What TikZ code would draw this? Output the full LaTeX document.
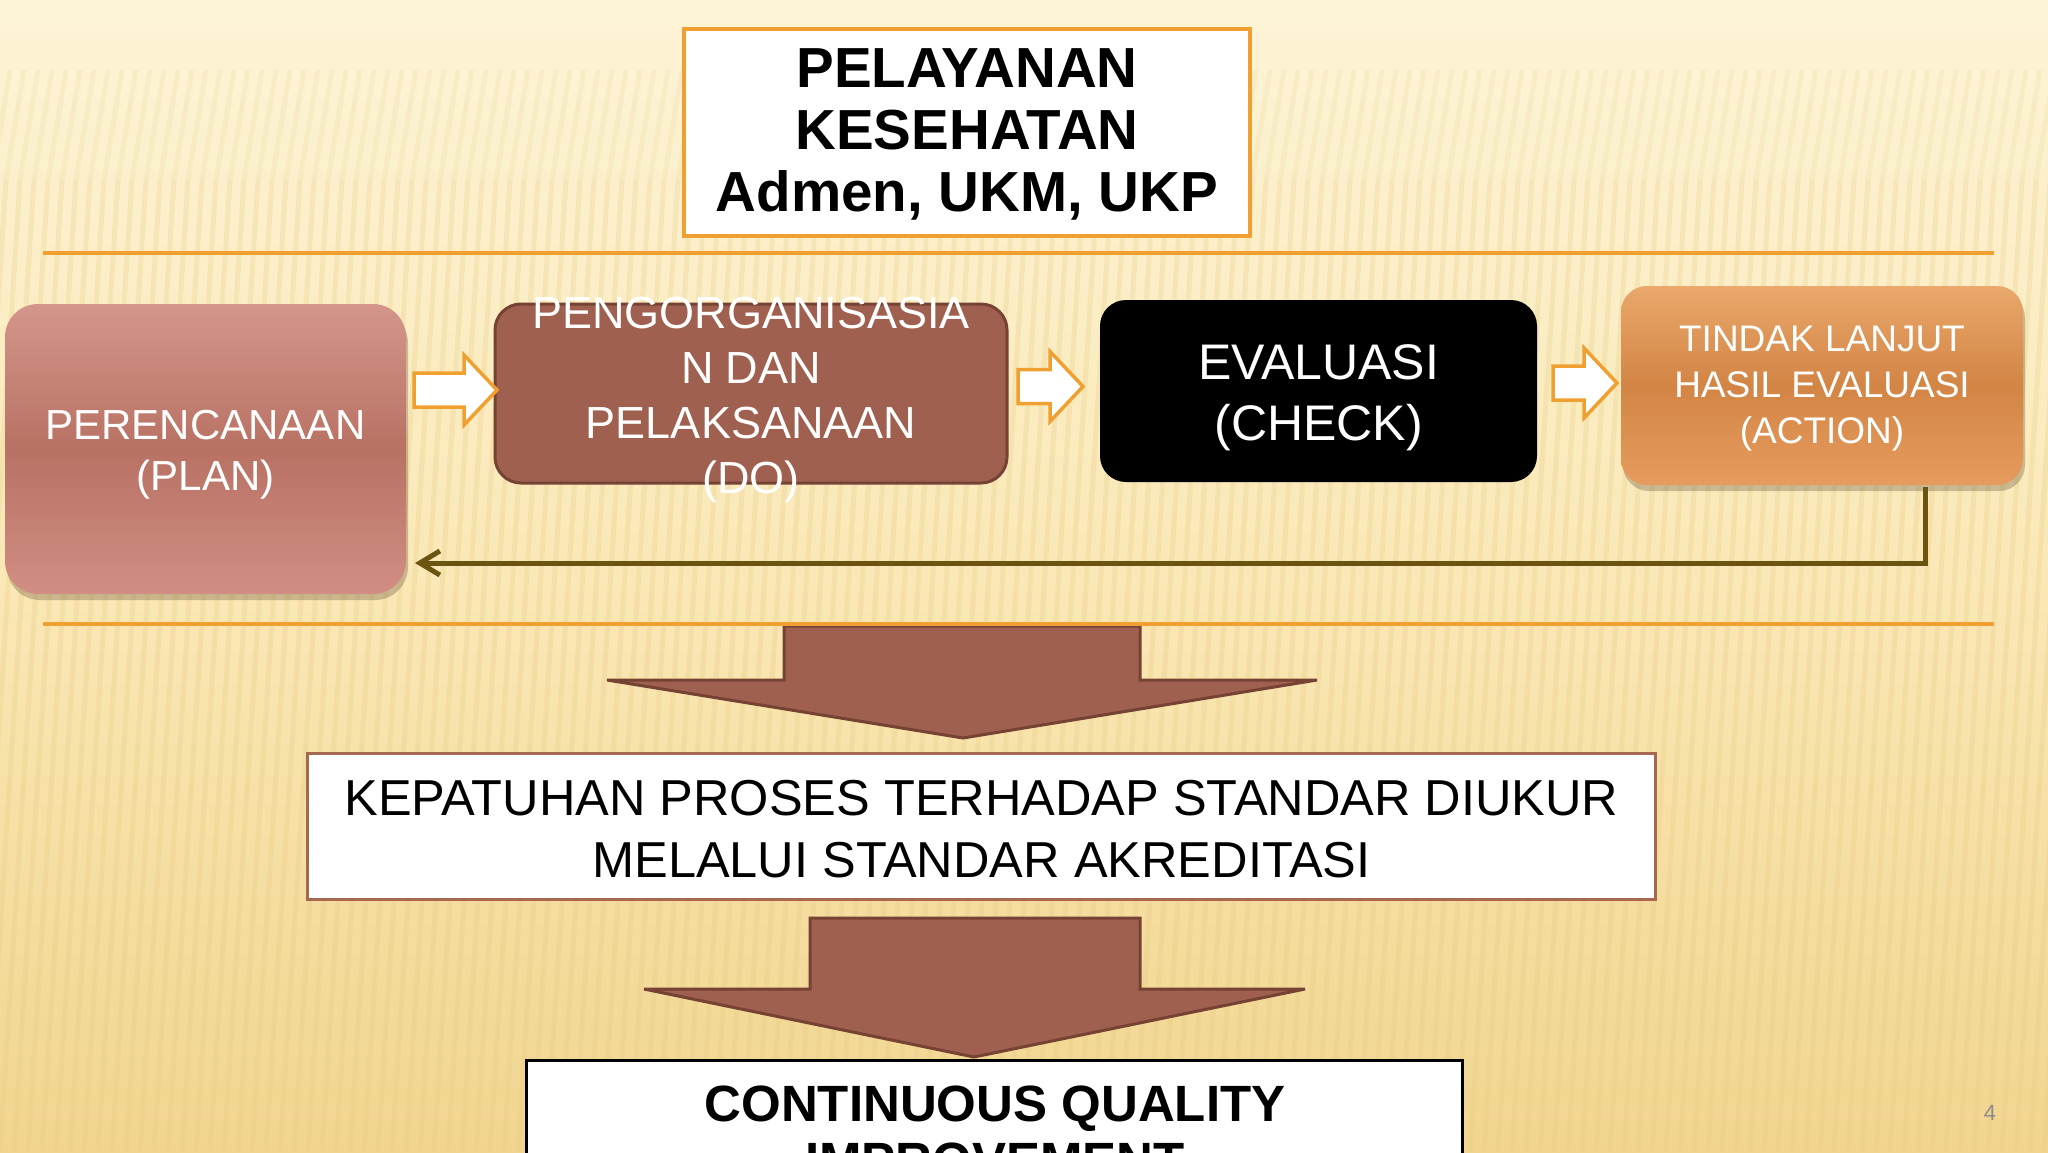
\documentclass[tikz,border=0pt]{standalone}
\usepackage{fontspec}
\setmainfont{Liberation Sans}
\usetikzlibrary{shadows,arrows.meta}
\definecolor{bgtop}{HTML}{FDF4D6}
\definecolor{bgmid}{HTML}{FAE8B6}
\definecolor{bgbot}{HTML}{F1D58F}
\definecolor{stripec}{HTML}{E6C77E}
\definecolor{orng}{HTML}{F0A030}
\definecolor{brn}{HTML}{A0604F}
\definecolor{brnd}{HTML}{754233}
\definecolor{kepb}{HTML}{A8684F}
\definecolor{olive}{HTML}{6B5410}
\definecolor{plantop}{HTML}{D4968A}
\definecolor{planmid}{HTML}{B87264}
\definecolor{planbot}{HTML}{D28E84}
\definecolor{acttop}{HTML}{EAA86C}
\definecolor{actmid}{HTML}{D28545}
\definecolor{actbot}{HTML}{E69C5E}
\tikzset{
  stripe/.style={stripec, line width=5pt, opacity=0.24},
  rule/.style={orng, line width=4pt},
  whitetxt/.style={text=white, align=center, inner sep=0pt},
  softshadow/.style={drop shadow={opacity=0.25, shadow xshift=2pt, shadow yshift=-6pt, fill=black!70!brown}},
  planbox/.style={rounded corners=33pt, minimum width=401pt, minimum height=290pt, inner sep=0pt,
     top color=plantop, bottom color=planbot, middle color=planmid, softshadow},
  dobox/.style={rounded corners=26pt, minimum width=512pt, minimum height=179pt, inner sep=0pt,
     fill=brn, draw=brnd, line width=3pt},
  evalbox/.style={rounded corners=26pt, minimum width=437pt, minimum height=182pt, inner sep=0pt, fill=black},
  actbox/.style={rounded corners=26pt, minimum width=402pt, minimum height=199pt, inner sep=0pt,
     top color=acttop, bottom color=actbot, middle color=actmid, softshadow},
  blk/.style={draw=orng, line width=3.5pt, fill=white, line join=miter},
  bigarr/.style={fill=brn, draw=brnd, line width=3pt, line join=miter, miter limit=2},
  fb/.style={olive, line width=5pt, -{Straight Barb[length=20pt,width=24pt]}},
}
\newcommand{\rblk}[3]{\draw[blk] (#1,#3-17) -- (#2-33,#3-17) -- (#2-33,#3-35) -- (#2,#3) -- (#2-33,#3+35) -- (#2-33,#3+17) -- (#1,#3+17) -- cycle;}
\begin{document}
\begin{tikzpicture}[x=1pt,y=-1pt]
\useasboundingbox (0,0) rectangle (2048,1152);
\clip (0,0) rectangle (2048,1152);
% background
\shade[top color=bgtop, bottom color=bgbot, middle color=bgmid] (0,0) rectangle (2048,1152);
\foreach \i in {-10,...,150} \draw[stripe] (\i*14,1152) -- (\i*14+62,180);
\foreach \i in {-10,...,150} \draw[stripe, opacity=0.14] (\i*14+62,180) -- (\i*14+80,70);

% title
\node[draw=orng, line width=4pt, fill=white, minimum width=566pt, minimum height=207pt, inner sep=0pt]
      (title) at (967,132.5) {};
\node[align=center, inner sep=0pt, font=\bfseries\fontsize{56.5}{62}\selectfont]
      (titletxt) at (967,134) {PELAYANAN\\KESEHATAN\\Admen, UKM, UKP};

% PDCA boxes
\node[planbox] (plan) at (205.5,449) {};
\node[whitetxt, font=\fontsize{42}{51}\selectfont] (plantxt) at (205.5,455) {PERENCANAAN\\(PLAN)};

\node[dobox] (do) at (751,393.5) {};
\node[whitetxt, font=\fontsize{45}{55}\selectfont] (dotxt) at (751,400) {PENGORGANISASIA\\N DAN\\PELAKSANAAN\\(DO)};

\node[evalbox] (eval) at (1318.5,391) {};
\node[whitetxt, font=\fontsize{50}{61}\selectfont] (evaltxt) at (1318.5,398) {EVALUASI\\(CHECK)};

\node[actbox] (act) at (1822,385.5) {};
\node[whitetxt, font=\fontsize{37}{46}\selectfont] (acttxt) at (1822,389) {TINDAK LANJUT\\HASIL EVALUASI\\(ACTION)};

% block arrows
\rblk{414}{497}{390}
\rblk{1018}{1083}{386.5}
\rblk{1553}{1617}{383}

% feedback
\coordinate (fbs) at (1925,487);
\coordinate (fbe) at (415,563);
\draw[fb] (fbs) |- (fbe);

% big arrows
\draw[bigarr] (784,626) -- (1140,626) -- (1140,680) -- (1317,680) -- (963,738) -- (607,680) -- (784,680) -- cycle;
\draw[bigarr] (810,918) -- (1140,918) -- (1140,989) -- (1305,989) -- (974,1057) -- (644,989) -- (810,989) -- cycle;

% rules
\draw[rule] (43,253) -- (1994,253);
\draw[rule] (43,624) -- (1994,624);

% kepatuhan
\node[draw=kepb, line width=3pt, fill=white, minimum width=1348pt, minimum height=146pt, inner sep=0pt]
      (kep) at (981.5,826) {};
\node[align=center, inner sep=0pt, font=\fontsize{50.5}{62}\selectfont] (keptxt) at (981.5,829)
      {KEPATUHAN PROSES TERHADAP STANDAR DIUKUR\\MELALUI STANDAR AKREDITASI};

% CQI
\node[draw=black, line width=3pt, fill=white, minimum width=936pt, minimum height=160pt, inner sep=0pt]
      (cqi) at (994,1140) {};
\node[anchor=base, inner sep=0pt, font=\bfseries\fontsize{51}{56}\selectfont] (cqi1) at (995,1121) {CONTINUOUS QUALITY};
\node[anchor=base, inner sep=0pt, font=\bfseries\fontsize{51}{56}\selectfont] (cqi2) at (995,1178) {IMPROVEMENT};

% page number
\node[text=black!45, font=\fontsize{22}{26}\selectfont] (pg) at (1990,1113) {4};
\end{tikzpicture}
\end{document}
